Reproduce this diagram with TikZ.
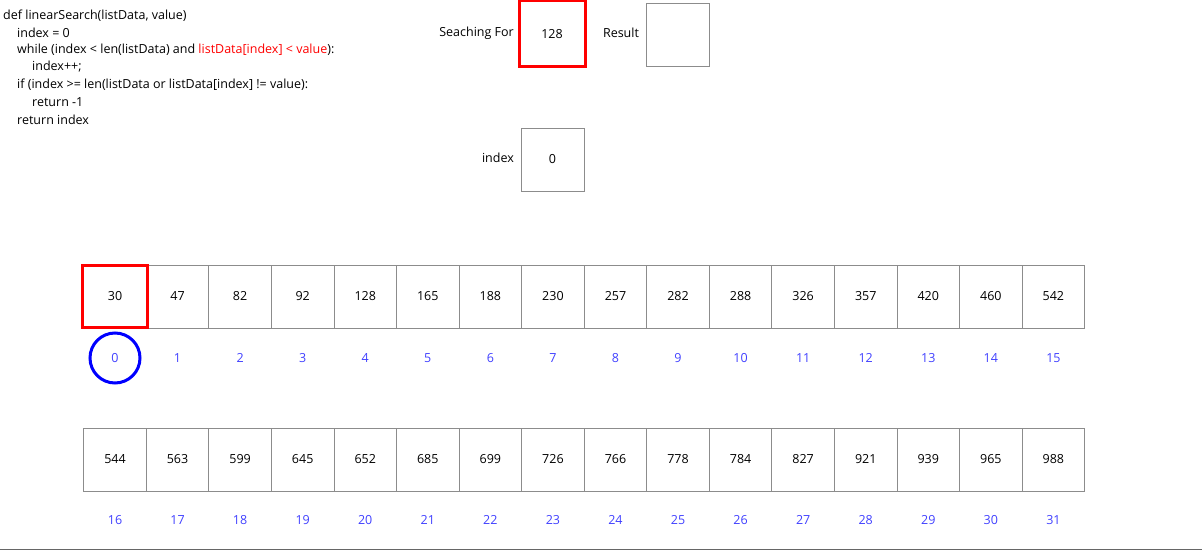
\documentclass[tikz,border=0pt]{standalone}
\usepackage{fontspec}
\setmainfont{Open Sans}
\begin{document}
\begin{tikzpicture}[x=1pt,y=-1pt,
  cell/.style={draw=black!45,line width=0.8pt,minimum width=62.56pt,minimum height=63pt,inner sep=0pt,font=\fontsize{12.5}{14}\selectfont},
  idx/.style={text=blue!75!white,font=\fontsize{12.5}{14}\selectfont,inner sep=0pt},
  code/.style={anchor=west,inner sep=0pt,font=\fontsize{12.5}{14}\selectfont},
  lbl/.style={inner sep=0pt,font=\fontsize{12.5}{14}\selectfont},
  sbox/.style={draw=black!45,line width=0.8pt,minimum width=63pt,minimum height=63pt,inner sep=0pt,font=\fontsize{12.5}{14}\selectfont}]
\useasboundingbox (0,0) rectangle (1202,551);
\node[code] (c1) at (3,16) {def linearSearch(listData, value)};
\node[code] (c2) at (17,33) {index = 0};
\node[code] (c3) at (17,50) {while (index < len(listData) and \textcolor{red}{listData[index] < value}):};
\node[code] (c4) at (32,67) {index++;};
\node[code] (c5) at (17,85) {if (index >= len(listData or listData[index] != value):};
\node[code] (c6) at (32,102) {return -1};
\node[code] (c7) at (17,120) {return index};
\node[sbox,draw=red,line width=3pt,minimum width=66pt,minimum height=66pt] (sf) at (552,34) {128};
\node[lbl,anchor=east] (sfl) at (514,33) {Seaching For};
\node[lbl] (rl) at (621,33) {Result};
\node[sbox] (res) at (677.5,34.5) {};
\node[sbox] (ix) at (552.5,159.5) {0};
\node[lbl,anchor=east] (ixl) at (514,158) {index};
\foreach \v [count=\i from 0] in {30,47,82,92,128,165,188,230,257,282,288,326,357,420,460,542}{
  \node[cell] (a\i) at (115+\i*62.56,296.5) {\v};
  \node[idx] (n\i) at (115+\i*62.56,358) {\i};
}
\foreach \v [count=\i from 0] in {544,563,599,645,652,685,699,726,766,778,784,827,921,939,965,988}{
  \pgfmathtruncatemacro{\k}{\i+16}
  \node[cell] (b\i) at (115+\i*62.56,459.5) {\v};
  \node[idx] (m\i) at (115+\i*62.56,520) {\k};
}
\draw[red,line width=3pt] ([shift={(-1,1)}]a0.north west) rectangle ([shift={(1,-1)}]a0.south east);
\draw[blue,line width=3pt] (n0) circle (25);
\coordinate (bl) at (0,549); \coordinate (br) at (1202,549);
\draw[black!60,line width=0.8pt] (bl) -- (br);
\end{tikzpicture}
\end{document}
